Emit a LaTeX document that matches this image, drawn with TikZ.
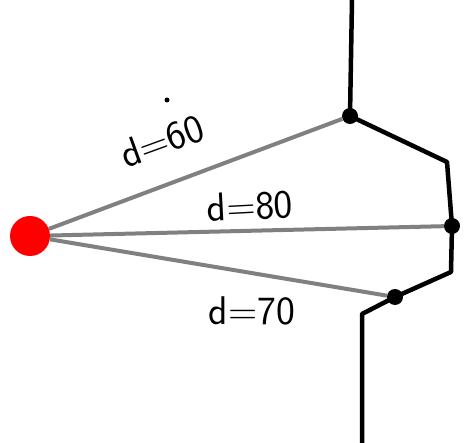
\documentclass[tikz,border=0pt]{standalone}
\usepackage{tikz}
\usetikzlibrary{positioning}
\tikzstyle{dot} = [circle, fill = black, inner sep = 0, minimum size = 16]
\tikzstyle{source} = [circle, fill = red, inner sep = 0, minimum size = 40]
\tikzstyle{ray} = [draw = gray, line width = 4]
\tikzstyle{wall} = [draw = black, line width = 4.5, line join = round]
\tikzstyle{dist} = [font = \sffamily\fontsize{40}{40}\selectfont, inner sep = 0]

\begin{document}
\begin{tikzpicture}[x = 1pt, y = -1pt]
      \useasboundingbox (0, 0) rectangle (474, 443);
      % source
      \node [source] (src) at (30, 236) {};
      % points on the wall
      \node [dot] (pt-a) at (350, 116) {};
      \node [dot] (pt-b) at (452, 226) {};
      \node [dot] (pt-c) at (395, 297) {};
      % wall
      \draw [wall] (352, 0) -- (pt-a.center) -- (447, 162) -- (pt-b.center)
        -- (451, 272) -- (pt-c.center) -- (362, 314) -- (362, 443);
      % rays
      \draw [ray] (src) -- (pt-a);
      \draw [ray] (src) -- (pt-b);
      \draw [ray] (src) -- (pt-c);
      % labels
      \node [dist, rotate = 20] (lbl-a) at (162, 141) {d=60};
      \node [circle, fill = black, inner sep = 0, minimum size = 5] (mark)
        at (167, 100) {};
      \node [dist, rotate = 3] (lbl-b) at (250, 206) {d=80};
      \node [dist] (lbl-c) at (252, 311) {d=70};
    \end{tikzpicture}
\end{document}
